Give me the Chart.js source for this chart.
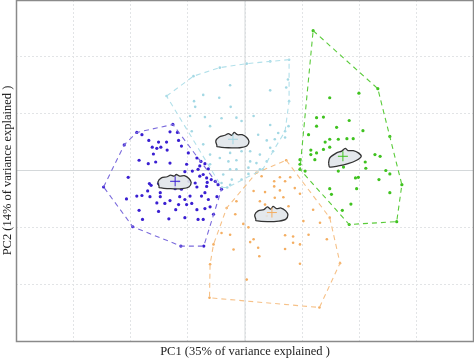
<!DOCTYPE html>
<html>
<head>
<meta charset="utf-8">
<script src="https://cdn.jsdelivr.net/npm/chart.js@4/dist/chart.umd.min.js"></script>
<style>
  html, body { margin: 0; padding: 0; background: #fff; }
  #wrap { width: 474px; height: 360px; }
</style>
</head>
<body>
<div id="wrap"><canvas id="pca"></canvas></div>
<script>
// PC scores (grid step = 1 unit)
const bluePts = [[-1.31,0.68],[-1.18,0.67],[-1.80,0.63],[-1.68,0.53],[-1.51,0.50],[-1.37,0.50],[-1.47,0.41],[-1.54,0.39],
  [-1.62,0.41],[-1.36,0.36],[-1.16,0.53],[-1.11,0.43],[-0.99,0.31],[-1.60,0.29],[-1.85,0.18],[-1.69,0.12],[-1.56,0.15],
  [-1.31,0.13],[-1.02,0.11],[-0.84,0.22],[-0.77,0.16],[-0.70,0.12],[-0.79,0.08],[-1.05,-0.02],[-0.92,-0.01],[-0.82,0.02],
  [-0.64,0.03],[-0.73,-0.07],[-0.67,-0.13],[-0.79,-0.10],[-0.59,-0.16],[-0.52,-0.19],[-0.47,-0.25],[-2.04,-0.12],
  [-1.67,-0.23],[-1.51,-0.23],[-1.16,-0.19],[-0.98,-0.19],[-0.66,-0.21],[-0.67,-0.28],[-0.87,-0.22],[-1.64,-0.26],
  [-1.70,-0.36],[-1.48,-0.39],[-1.22,-0.32],[-1.11,-0.33],[-0.84,-0.29],[-0.70,-0.39],[-1.80,-0.44],[-1.89,-0.45],
  [-1.66,-0.46],[-1.48,-0.46],[-1.31,-0.53],[-1.14,-0.46],[-1.05,-0.51],[-0.96,-0.45],[-0.76,-0.45],[-0.64,-0.51],
  [-0.49,-0.46],[-2.07,-0.50],[-1.54,-0.57],[-1.40,-0.58],[-1.16,-0.60],[-1.02,-0.60],[-0.93,-0.58],[-0.84,-0.69],
  [-0.70,-0.67],[-0.61,-0.64],[-1.85,-0.70],[-1.51,-0.72],[-1.21,-0.69],[-0.55,-0.77],[-1.79,-0.86],[-1.33,-0.85],
  [-1.05,-0.83],[-0.82,-0.86],[-0.73,-0.86]];
const cyanPts = [[-0.26,1.50],[-0.73,1.33],[-0.89,1.22],[-0.45,1.28],[-0.87,1.12],[-0.25,1.12],[0.75,1.60],[0.72,1.46],
  [0.44,1.41],[0.15,0.96],[-0.15,0.93],[-0.41,0.92],[-0.70,0.94],[-0.96,0.96],[-0.06,0.87],[-0.61,0.78],[0.44,0.80],
  [0.76,0.78],[-0.93,0.69],[0.58,0.66],[0.23,0.63],[0.38,0.53],[0.52,0.55],[0.70,0.58],[-0.73,0.46],[-0.26,0.31],
  [-0.06,0.34],[0.09,0.34],[0.26,0.28],[0.44,0.40],[-0.61,0.28],[-0.44,0.22],[-0.29,0.16],[-0.15,0.18],[0.09,0.16],
  [0.20,0.13],[0.38,0.16],[-0.61,0.11],[-0.26,0.02],[-0.15,0.02],[0.06,0.05],[-0.38,-0.07],[-0.23,-0.16],[-0.06,-0.16],
  [-0.26,-0.25],[-0.41,-0.22],[0.06,-0.06],[0.26,0.02]];
const greenPts = [[1.48,1.28],[1.99,1.36],[1.25,0.93],[1.37,0.94],[1.25,0.78],[1.60,0.76],[1.82,0.88],[2.06,0.70],
  [1.11,0.63],[1.48,0.55],[1.40,0.50],[1.63,0.55],[1.78,0.56],[1.89,0.56],[1.15,0.36],[1.25,0.31],[1.37,0.37],
  [1.48,0.41],[1.15,0.28],[1.22,0.19],[0.96,0.19],[0.96,0.11],[2.27,0.28],[2.36,0.25],[2.10,0.15],[2.53,0.60],
  [1.63,-0.01],[1.72,0.06],[2.11,0.04],[2.46,0.00],[2.53,-0.06],[1.93,-0.13],[1.98,-0.12],[2.34,-0.16],[1.48,-0.32],
  [1.95,-0.32],[1.51,-0.42],[2.53,-0.39],[1.85,-0.59],[1.70,-0.70],[1.05,-0.01]];
const orangePts = [[0.29,-0.10],[0.61,-0.12],[0.79,-0.12],[0.51,-0.19],[0.70,-0.19],[0.51,-0.28],[0.15,-0.36],[0.35,-0.38],
  [0.61,-0.35],[0.87,-0.31],[0.96,-0.41],[0.52,-0.48],[0.67,-0.47],[-0.15,-0.54],[0.26,-0.54],[0.35,-0.60],[0.76,-0.63],
  [1.19,-0.69],[-0.17,-0.77],[0.38,-0.80],[-0.03,-0.94],[1.02,-0.89],[1.31,-0.92],[0.06,-1.00],[-0.41,-1.10],
  [-0.26,-1.13],[0.70,-1.14],[0.84,-1.16],[1.11,-1.13],[0.15,-1.21],[0.09,-1.26],[0.84,-1.27],[1.43,-1.21],
  [-0.20,-1.39],[0.23,-1.36],[0.70,-1.38],[0.96,-1.30],[0.25,-1.51],[0.96,-1.64],[0.03,-1.92]];

// convex hull vertices of each group
const blueHull = [[-2.47,-0.29],[-2.11,0.45],[-1.89,0.67],[-1.26,0.81],[-0.41,-0.33],[-0.72,-1.33],[-1.12,-1.33],[-1.96,-0.99]];
const cyanHull = [[-1.37,1.31],[-0.90,1.66],[-0.44,1.81],[0.03,1.88],[0.44,1.92],[0.77,1.95],[0.77,1.22],[0.70,0.69],
  [0.49,0.34],[0.31,0.02],[-0.31,-0.30],[-0.40,-0.30]];
const greenHull = [[1.19,2.46],[2.32,1.44],[2.74,-0.25],[2.65,-0.90],[1.82,-0.95],[0.96,0.02]];
const orangeHull = [[0.72,0.18],[1.48,-0.83],[1.66,-1.63],[1.30,-2.41],[-0.62,-2.24],[-0.61,-1.65],[-0.55,-1.30],
  [-0.32,-0.66],[0.20,-0.04]];

// density contours around group means
const blueBlob = [[-1.50,-0.28],[-1.52,-0.20],[-1.46,-0.13],[-1.36,-0.11],[-1.30,-0.08],[-1.24,-0.10],[-1.20,-0.07],
  [-1.14,-0.10],[-1.06,-0.09],[-0.98,-0.14],[-0.94,-0.21],[-0.98,-0.29],[-1.10,-0.32],[-1.30,-0.32],[-1.50,-0.30]];
const cyanBlob = [[-0.49,0.44],[-0.51,0.52],[-0.45,0.59],[-0.35,0.62],[-0.29,0.65],[-0.23,0.62],[-0.19,0.67],
  [-0.13,0.63],[-0.05,0.63],[0.03,0.58],[0.07,0.51],[0.03,0.43],[-0.09,0.40],[-0.29,0.40],[-0.49,0.42]];
const greenBlob = [[1.46,0.13],[1.48,0.22],[1.60,0.31],[1.69,0.34],[1.75,0.39],[1.80,0.35],[1.89,0.35],[1.98,0.31],
  [2.03,0.25],[1.95,0.18],[1.80,0.12],[1.63,0.08],[1.48,0.06]];
const orangeBlob = [[0.19,-0.86],[0.17,-0.78],[0.23,-0.71],[0.33,-0.69],[0.39,-0.64],[0.45,-0.68],[0.49,-0.63],
  [0.55,-0.67],[0.63,-0.66],[0.71,-0.71],[0.75,-0.78],[0.71,-0.86],[0.59,-0.89],[0.39,-0.90],[0.19,-0.88]];

// group means
const blueMean = [-1.22, -0.19];
const cyanMean = [-0.21, 0.55];
const greenMean = [1.71, 0.25];
const orangeMean = [0.47, -0.74];

const xLabel = 'PC1 (35% of variance explained )';
const yLabel = 'PC2 (14% of variance explained )';

const toXY = arr => arr.map(p => ({ x: p[0], y: p[1] }));
const closed = arr => toXY(arr.concat([arr[0]]));

const groups = [
  { pts: bluePts, hull: blueHull, blob: blueBlob, mean: blueMean, dot: '#3a1fd2', line: '#7b6bdc', r: 1.6 },
  { pts: cyanPts, hull: cyanHull, blob: cyanBlob, mean: cyanMean, dot: '#a3d8e4', line: '#b2e0ea', r: 1.3 },
  { pts: greenPts, hull: greenHull, blob: greenBlob, mean: greenMean, dot: '#3fc21f', line: '#5acb3a', r: 1.6 },
  { pts: orangePts, hull: orangeHull, blob: orangeBlob, mean: orangeMean, dot: '#f4ae62', line: '#f6c188', r: 1.3 }
];

const datasets = [];
// means and contours on top
groups.forEach(g => {
  datasets.push({ data: toXY([g.mean]), pointStyle: 'cross', pointRadius: 5, borderColor: g.dot,
    pointBorderWidth: 1, showLine: false });
});
groups.forEach(g => {
  datasets.push({ data: closed(g.blob), showLine: true, borderColor: '#333', borderWidth: 1.3,
    backgroundColor: 'rgba(225,230,234,0.9)', fill: 'shape', pointRadius: 0, tension: 0.3 });
});
groups.forEach(g => {
  datasets.push({ data: closed(g.hull), showLine: true, borderColor: g.line, borderWidth: 1.1,
    borderDash: [5, 4], pointRadius: 0, fill: false });
});
groups.forEach(g => {
  datasets.push({ data: toXY(g.pts.concat(g.hull)), showLine: false, pointRadius: g.r,
    backgroundColor: g.dot, borderWidth: 0 });
});

// frame and zero lines
const framePlugin = {
  id: 'frame',
  beforeDatasetsDraw(chart) {
    const { ctx, chartArea: a, scales } = chart;
    const x0 = scales.x.getPixelForValue(0), y0 = scales.y.getPixelForValue(0);
    ctx.save();
    ctx.strokeStyle = '#d4d8da';
    ctx.lineWidth = 1;
    ctx.beginPath();
    ctx.moveTo(x0, a.top); ctx.lineTo(x0, a.bottom);
    ctx.moveTo(a.left, y0); ctx.lineTo(a.right, y0);
    ctx.stroke();
    ctx.restore();
  },
  afterDraw(chart) {
    const { ctx, chartArea: a } = chart;
    ctx.save();
    ctx.strokeStyle = '#8a8a8a';
    ctx.lineWidth = 1.5;
    ctx.strokeRect(a.left + 0.5, a.top + 0.5, a.right - a.left - 1, a.bottom - a.top);
    ctx.restore();
  }
};

new Chart(document.getElementById('pca'), {
  type: 'scatter',
  data: { datasets },
  options: {
    responsive: true,
    maintainAspectRatio: false,
    animation: false,
    layout: { padding: 0, autoPadding: false },
    plugins: { legend: { display: false }, tooltip: { enabled: false } },
    scales: {
      x: {
        min: -4, max: 4,
        ticks: { display: false, stepSize: 1 },
        grid: { color: '#e2e4e6', drawTicks: false },
        border: { display: false, dash: [2, 2] },
        title: { display: true, text: xLabel, color: '#222', padding: { top: 0, bottom: 1 },
          font: { family: 'Liberation Serif', size: 12.5 } },
        afterFit(scale) { scale.height = 19; }
      },
      y: {
        min: -3, max: 3,
        ticks: { display: false, stepSize: 1 },
        grid: { color: '#e2e4e6', drawTicks: false },
        border: { display: false, dash: [2, 2] },
        title: { display: true, text: yLabel, color: '#222', padding: { top: 0, bottom: 0 },
          font: { family: 'Liberation Serif', size: 12.5 } },
        afterFit(scale) { scale.width = 16; }
      }
    }
  },
  plugins: [framePlugin]
});
</script>
</body>
</html>
